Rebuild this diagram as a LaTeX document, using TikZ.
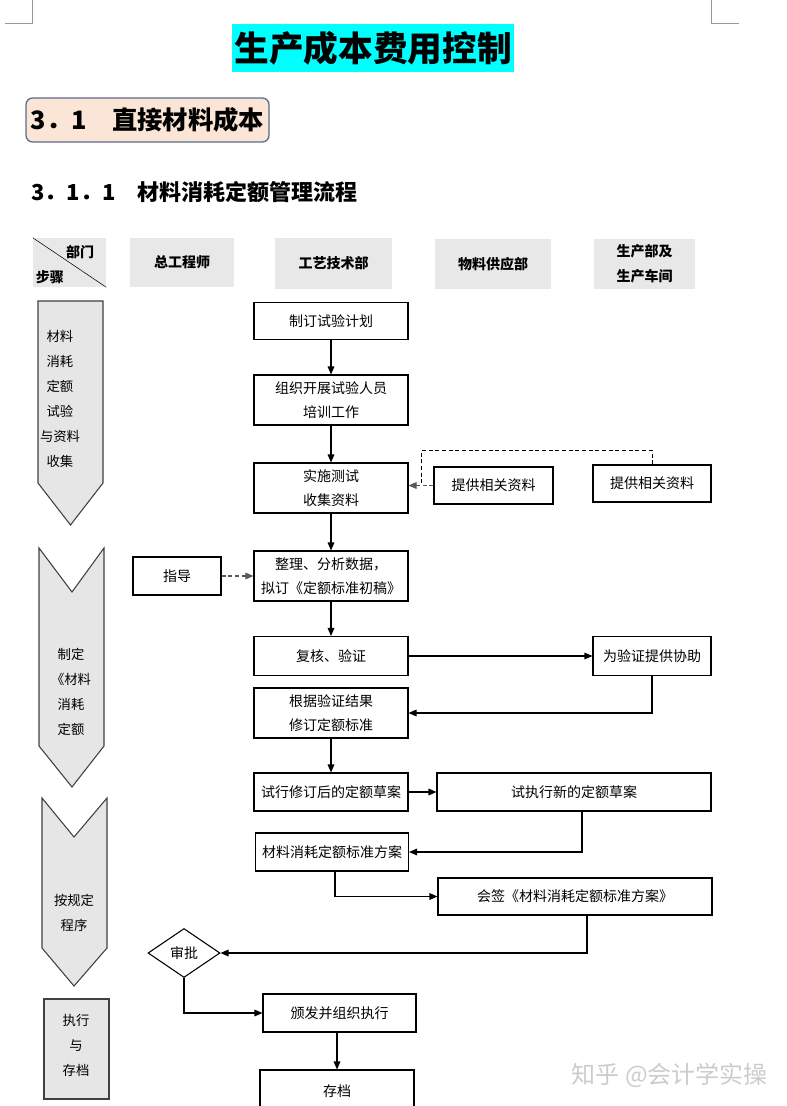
\documentclass[tikz,border=0pt]{standalone}
\usepackage{fontspec}
\setmainfont{Noto Sans CJK SC}
\usetikzlibrary{arrows.meta}
\usetikzlibrary{shapes.geometric}
\newdimen\pxu \pxu=0.75pt
\definecolor{titlecyan}{HTML}{00FFFF}
\definecolor{secfill}{HTML}{FBE5D6}
\definecolor{secline}{HTML}{5B6B8C}
\definecolor{headgray}{HTML}{E8E8E8}
\definecolor{stepgray}{HTML}{E6E6E6}

\begin{document}
\begin{tikzpicture}[x=0.75pt,y=-0.75pt,
  wh/.style 2 args={minimum width=#1\pxu, minimum height=#2\pxu},
  proc/.style={draw, fill=white, line width=0.8pt, align=center, inner sep=0pt, font=\fontsize{10.5}{18}\selectfont},
  head/.style={fill=headgray, align=center, inner sep=0pt, font=\fontsize{10.5}{18.75}\selectfont\bfseries},
  steptext/.style={align=center, inner sep=0pt, font=\fontsize{10}{18.75}\selectfont},
  stepshape/.style={draw=black!75, fill=stepgray, line width=0.8pt},
  arr/.style={line width=0.8pt, -{Triangle[length=6pt,width=5pt]}},
  dasharr/.style={arr, dash pattern=on 3pt off 2pt, draw=black!65}
  ]
\useasboundingbox (0,0) rectangle (786,1106);

\draw [black!40, line width=0.6pt] (5,23) -- (32,23) -- (32,0);
\draw [black!40, line width=0.6pt] (739,23) -- (711,23) -- (711,0);

\node [fill=titlecyan, wh={282}{48}, inner sep=0pt, font=\fontsize{26}{26}\selectfont\bfseries] (title) at (373,48) {生产成本费用控制};
\node [draw=secline, fill=secfill, rounded corners=5pt, line width=1pt, wh={243}{44}, inner sep=0pt, font=\fontsize{19}{19}\selectfont\bfseries] (sec) at (147.5,120) {3．1　直接材料成本};
\node [anchor=west, inner sep=0pt, font=\fontsize{16.5}{16.5}\selectfont\bfseries] (subsec) at (31,192) {3．1．1　材料消耗定额管理流程};

% header row
\node [head, wh={73}{49}] (hstep) at (69.5,262.5) {};
\draw (hstep.north west) -- (hstep.south east);
\node [font=\fontsize{10.5}{12}\selectfont\bfseries, inner sep=0pt] (hdept) at (80,252) {部门};
\node [font=\fontsize{10.5}{12}\selectfont\bfseries, inner sep=0pt] (hsteps) at (50,277) {步骤};
\node [head, wh={104}{49}] (hchief) at (182,262.5) {总工程师};
\node [head, wh={117}{51}] (htech) at (333.5,263.5) {工艺技术部};
\node [head, wh={116}{50}] (hsupply) at (493,264) {物料供应部};
\node [head, wh={101}{50}] (hprod) at (644.5,264) {生产部及\\生产车间};

% steps
\draw [stepshape] (38,301) -- (103,301) -- (103,483) -- (70.5,525) -- (38,483) -- cycle;
\draw [stepshape] (39,548) -- (72,592) -- (104,548) -- (104,746) -- (72,787) -- (39,746) -- cycle;
\draw [stepshape] (42,798) -- (74,837) -- (107,798) -- (107,948) -- (74,986) -- (42,948) -- cycle;
\draw [stepshape] (44,999) rectangle (109,1099);
\node [steptext] (step1) at (60,399) {材料\\消耗\\定额\\试验\\与资料\\收集};
\node [steptext] (step2) at (71,692) {制定\\《材料\\消耗\\定额};
\node [steptext] (step3) at (74,912.5) {按规定\\程序};
\node [steptext] (step4) at (76,1045.5) {执行\\与\\存档};

% flow
\node [proc, wh={154}{37}] (plan) at (331,321) {制订试验计划};
\node [proc, wh={154}{50}] (train) at (331,400) {组织开展试验人员\\培训工作};
\node [proc, wh={154}{50}] (test) at (331,488) {实施测试\\收集资料};
\node [proc, wh={119}{37}] (supmat) at (493.5,485.5) {提供相关资料};
\node [proc, wh={118}{37}] (supprod) at (652,483.5) {提供相关资料};
\node [proc, wh={154}{50}] (draft) at (331,576) {整理、分析数据，\\拟订《定额标准初稿》};
\node [proc, wh={88}{38}] (guide) at (177,576) {指导};
\node [proc, wh={154}{39}] (check) at (331,656) {复核、验证};
\node [proc, wh={118}{39}] (assist) at (652,656) {为验证提供协助};
\node [proc, wh={154}{50}] (revise) at (331,713) {根据验证结果\\修订定额标准};
\node [proc, wh={154}{38}] (trial) at (331,792) {试行修订后的定额草案};
\node [proc, wh={274}{38}] (trialrun) at (574,792) {试执行新的定额草案};
\node [proc, wh={153}{38}] (scheme) at (332,852) {材料消耗定额标准方案};
\node [proc, wh={274}{37}] (sign) at (575,896.5) {会签《材料消耗定额标准方案》};
\node [draw, diamond, fill=white, line width=0.8pt, aspect=1.47, inner sep=0pt, wh={72}{49}, font=\fontsize{10.5}{12}\selectfont] (approve) at (184,953) {审批};
\node [proc, wh={153}{38}] (issue) at (339.5,1013) {颁发并组织执行};
\node [proc, wh={154}{42}] (archive) at (337,1091) {存档};

\node [text=black!20, inner sep=0pt, anchor=east, font=\fontsize{18}{18}\selectfont] (mark) at (768,1075) {知乎 @会计学实操};

\draw [arr] (plan) -- (train);
\draw [arr] (train) -- (test);
\draw [arr] (test) -- (draft);
\draw [dasharr] (supmat.west) -- (supmat.west -| test.east);
\draw [dash pattern=on 3pt off 2pt, line width=0.6pt] (supprod.north) -- ++(0,-14) -| ([xshift=13\pxu]supmat.west -| test.east);
\draw [dasharr] (guide) -- (guide -| draft.west);
\draw [arr] (draft) -- (check);
\draw [arr] (check) -- (assist);
\draw [arr] (assist.south) |- (revise.east);
\draw [arr] (revise) -- (trial);
\draw [arr] (trial) -- (trialrun);
\draw [arr] ([xshift=8\pxu]trialrun.south) |- (scheme.east);
\draw [arr] ([xshift=3\pxu]scheme.south) |- (sign.west);
\draw [arr] ([xshift=12\pxu]sign.south) |- (approve.east);
\draw [arr] (approve.south) |- (issue.west);
\draw [arr] (issue.south -| archive.north) -- (archive.north);
\end{tikzpicture}
\end{document}
